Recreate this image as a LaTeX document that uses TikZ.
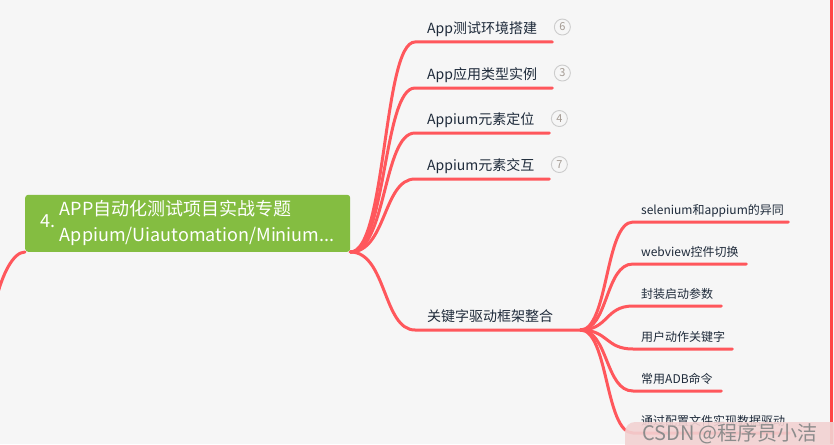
\documentclass[tikz,border=0pt]{standalone}
\usepackage{fontspec}
\setmainfont{Noto Sans CJK SC}
\usetikzlibrary{positioning}
\definecolor{bgcol}{HTML}{F6F6F6}
\definecolor{linecol}{HTML}{FF575C}
\definecolor{rootcol}{HTML}{84BD41}
\definecolor{txtcol}{HTML}{1E2A3A}
\definecolor{badgecol}{HTML}{A39A92}
\definecolor{edgecol}{HTML}{FF4646}
\definecolor{wmpink}{HTML}{F2D2D2}
\definecolor{wmgrey}{HTML}{DCDCDC}

\tikzset{
	root/.style={anchor=south west, fill=rootcol, rounded corners=3pt, minimum width=325pt, minimum height=57pt, inner sep=0pt, text=white, font=\fontsize{18}{26}\selectfont},
	topic/.style={anchor=south west, inner xsep=12pt, inner ysep=5pt, text height=11pt, text depth=3pt, align=left, text=txtcol, font=\fontsize{14}{16}\selectfont},
	subtopic/.style={anchor=south west, inner xsep=8pt, inner ysep=5pt, text height=9.5pt, text depth=2.5pt, align=left, text=txtcol, font=\fontsize{12}{14}\selectfont},
	badge/.style={circle, draw=black!20, line width=0.9pt, minimum size=16pt, inner sep=0pt, text=badgecol, font=\fontsize{11}{11}\selectfont},
	branch/.style={draw=linecol, line width=3pt, line cap=round},
}

\begin{document}
\begin{tikzpicture}[x=1pt, y=-1pt]
	%%%%% START %%%%%
	
	\useasboundingbox (0,0) rectangle (834,444);
	\clip (0,0) rectangle (834,444);
	\fill[bgcol] (0,0) rectangle (834,444);
	
	\node[root] (root) at (25,252) {4.\hspace{4pt}\begin{tabular}{@{}l@{}}APP自动化测试项目实战专题\\Appium/Uiautomation/Minium...\end{tabular}};
	\coordinate (lft) at (-4,300);
	
	\node[topic, text width=113pt] (t1) at (415,42) {App测试环境搭建};
	\node[topic, text width=113pt] (t2) at (415,88) {App应用类型实例};
	\node[topic, text width=110pt] (t3) at (415,133) {Appium元素定位};
	\node[topic, text width=110pt] (t4) at (415,179) {Appium元素交互};
	\node[topic, text width=141pt] (t5) at (415,330) {关键字驱动框架整合};
	
	\node[badge, above right=9pt and 4pt of t1.south east] (b1) {6};
	\node[badge, above right=9pt and 4pt of t2.south east] (b2) {3};
	\node[badge, above right=8.5pt and 4pt of t3.south east] (b3) {4};
	\node[badge, above right=8.5pt and 4pt of t4.south east] (b4) {7};
	
	\node[subtopic, text width=139pt] (s1) at (633,222) {selenium和appium的异同};
	\node[subtopic, text width=97pt] (s2) at (633,264) {webview控件切换};
	\node[subtopic, text width=72pt] (s3) at (633,306) {封装启动参数};
	\node[subtopic, text width=83pt] (s4) at (633,349) {用户动作关键字};
	\node[subtopic, text width=72pt] (s5) at (633,391) {常用ADB命令};
	\node[subtopic, text width=140pt] (s6) at (633,433) {通过配置文件实现数据驱动};
	
	% branches of the root
	\draw[branch] (root.south west) .. controls +(-12,0) and +(6,-25) .. (lft);
	\foreach \t in {t1,t2,t3,t4,t5}
		\draw[branch] (root.south east) .. controls +(36,0) and +(-32,0) .. (\t.south west) -- (\t.south east);
	
	% branches of the fifth topic
	\foreach \s in {s1,s2,s3,s4,s5,s6}
		\draw[branch] (t5.south east) .. controls +(28,0) and +(-28,0) .. (\s.south west) -- (\s.south east);
	
	\draw[edgecol, line width=2.5pt] (831.5,0) -- (831.5,444);
	
	% watermark
	\shade[left color=wmpink, middle color=wmgrey, right color=wmpink, opacity=0.9, rounded corners=10pt] (625,422) rectangle (850,460);
	\node[text=black!45, font=\fontsize{20}{20}\selectfont] (wm) at (730,434) {CSDN @程序员小洁};
	
	%%%%% END %%%%%
\end{tikzpicture}
\end{document}
